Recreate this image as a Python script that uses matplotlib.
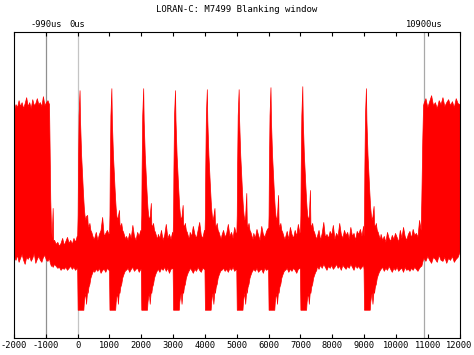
import numpy as np
import matplotlib
matplotlib.use("Agg")
import matplotlib.pyplot as plt
import matplotlib.transforms as mtransforms

# envelope of the captured signal (arbitrary amplitude units, baseline ~ 0)

# blanked part on the left
left_up = [150, 156, 153, 160, 154, 158, 152, 157, 163, 154, 158, 152,
           161, 155, 157, 162, 156, 158, 154, 164, 155, 158, 160, 156]
left_lo = [3, 0, 5, -2, 2, 6, 0, -4, 3, 1, 4, -1,
           2, 7, -3, 1, 4, 0, -2, 3, 5, 0, -1, 2]

# fall after the blanking window
fall_t = [-880, -860, -840, -815, -785, -770]
fall_up = [110, 60, 35, 22, 52, 20]
fall_lo = [-2, -4, -6, -5, -7, -6]

# one pulse as seen on the scope, times relative to the nominal pulse time
shape_dt = [-15, 0, 10, 30, 60, 75, 90, 110, 130, 160, 180, 195, 215, 240,
            265, 300, 315, 340, 370, 400, 430, 465, 500]
shape_up = [24, 45, 90, 145, 170, 140, 125, 105, 92, 72, 60, 52, 45, 40,
            44, 55, 36, 33, 37, 30, 28, 24, 21]
shape_lo = [-9, -50, -50, -50, -50, -50, -50, -50, -50, -50, -50, -42, -37, -33,
            -44, -30, -33, -27, -24, -18, -15, -12, -10]

pulse_t0 = [0, 1000, 2000, 3000, 4000, 5000, 6000, 7000, 9000]
pulse_peak = [170, 172, 172, 170, 171, 171, 173, 174, 172]
echo_peak = [45, 50, 57, 55, 52, 67, 65, 70, 54]

# noise between pulses (gap 0 = before the first pulse, last = after 9000us)
gap_up = [
    [20, 16, 18, 14, 17, 22, 15, 19, 23, 17, 20, 16, 22, 18, 24],
    [22, 28, 20, 26, 30, 43, 24, 27, 30, 26],
    [24, 20, 27, 22, 35, 24, 20, 28, 24, 30],
    [26, 22, 30, 20, 25, 36, 22, 26, 21, 28],
    [28, 24, 34, 26, 22, 30, 38, 25, 22, 30],
    [25, 30, 23, 27, 36, 24, 28, 22, 33, 26],
    [27, 22, 31, 25, 20, 34, 26, 23, 29, 32],
    [23, 29, 21, 33, 26, 22, 30, 24, 36, 27],
    [24, 30, 20, 27, 38, 23, 26, 22, 29, 25, 35, 21, 27, 24, 37, 26, 22, 30,
     25, 28, 21, 33, 24, 27, 20, 29, 26, 31, 24, 34],
    [26, 20, 24, 18, 28, 22, 19, 25, 21, 27, 23, 18, 30, 22, 33, 24, 20, 26,
     29, 22, 31, 25, 27, 23, 40, 30],
]
gap_lo = [
    [-4, -6, -8, -7, -10, -8, -9, -7, -10, -8, -6, -9, -7, -10, -8],
    [-12, -9, -11, -8, -13, -10, -9, -12, -8, -10],
    [-10, -8, -12, -9, -7, -11, -9, -8, -12, -9],
    [-9, -12, -8, -10, -7, -11, -8, -13, -9, -8],
    [-8, -10, -13, -9, -11, -7, -10, -12, -8, -9],
    [-10, -8, -11, -9, -12, -8, -10, -7, -11, -9],
    [-9, -11, -8, -12, -10, -9, -13, -8, -10, -9],
    [-10, -8, -12, -9, -11, -8, -10, -13, -9, -8],
    [-6, -9, -5, -8, -4, -7, -10, -6, -8, -5, -9, -7, -4, -8, -6, -10, -5, -7,
     -9, -6, -8, -4, -7, -10, -5, -8, -6, -9, -7, -5],
    [-9, -7, -11, -8, -10, -6, -9, -12, -8, -10, -7, -11, -9, -8, -12, -7, -10,
     -9, -11, -8, -10, -7, -9, -11, -8, -6],
]
gap_start = [-740, 520, 1520, 2520, 3520, 4520, 5520, 6520, 7520, 9520]
gap_end = [-30, 970, 1970, 2970, 3970, 4970, 5970, 6970, 8970, 10780]

# rise into the blanking window on the right
rise_t = [10800, 10830, 10855]
rise_up = [60, 120, 155]
rise_lo = [-6, -2, 1]
right_up = [157, 162, 153, 159, 165, 155, 158, 152, 160, 156,
            163, 154, 158, 161, 155, 159, 153, 162, 157, 156]
right_lo = [2, -1, 4, 0, -3, 3, 1, -2, 5, 0,
            -1, 3, -3, 2, 0, 4, -2, 1, 3, 8]

markers = [(-990, "-990us", "#909090"), (0, "0us", "#c4c4c4"),
           (10900, "10900us", "#a8a8a8")]

# assemble envelope
t = list(np.linspace(-2000, -900, len(left_up)))
up = list(left_up)
lo = list(left_lo)
t += fall_t
up += fall_up
lo += fall_lo
for i in range(len(gap_up)):
    t += list(np.linspace(gap_start[i], gap_end[i], len(gap_up[i])))
    up += gap_up[i]
    lo += gap_lo[i]
    if i < len(pulse_t0):
        p_up = list(shape_up)
        p_up[4] = pulse_peak[i]
        p_up[15] = echo_peak[i]
        t += [pulse_t0[i] + d for d in shape_dt]
        up += p_up
        lo += shape_lo
t += rise_t
up += rise_up
lo += rise_lo
t += list(np.linspace(10870, 12000, len(right_up)))
up += right_up
lo += right_lo

plt.rcParams['font.family'] = 'DejaVu Sans Mono'
plt.rcParams['axes.unicode_minus'] = False

fig = plt.figure(figsize=(4.74, 3.55), dpi=100)
ax = fig.add_axes([14 / 474, 17.3 / 355, 445.5 / 474, 305.4 / 355])

for x, lab, col in markers:
    ax.axvline(x, color=col, lw=0.9, zorder=1)
    trans = mtransforms.blended_transform_factory(ax.transData, ax.transAxes)
    ax.text(x, 1.024, lab, transform=trans, ha='center', va='center', fontsize=6.3)

ax.fill_between(t, lo, up, color='red', lw=0.5, zorder=2)

ax.set_xlim(-2000, 12000)
ax.set_ylim(-78, 228)
ax.set_xticks(np.arange(-2000, 12001, 1000))
ax.set_yticks([])
ax.tick_params(axis='x', direction='in', length=3, width=0.8, top=True,
               labelsize=6.3, pad=2.5)
for s in ax.spines.values():
    s.set_linewidth(0.8)

fig.text(0.5, 0.985, "LORAN-C: M7499 Blanking window", ha='center', va='top',
         fontsize=6.5)

fig.savefig("out.png", dpi=100)
